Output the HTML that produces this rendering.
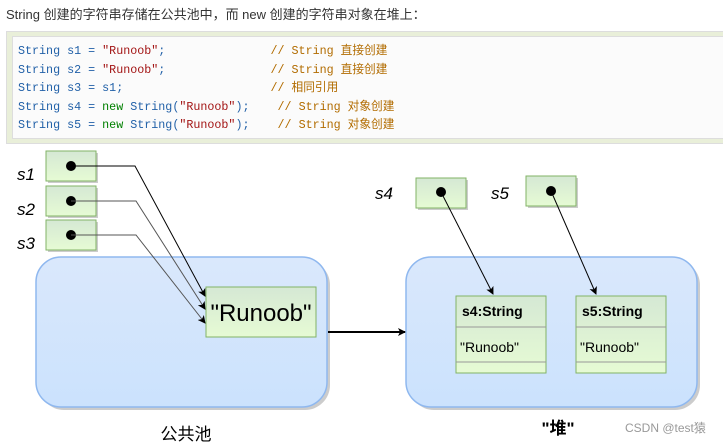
<!DOCTYPE html>
<html><head><meta charset="utf-8"><style>
body{margin:0;width:723px;height:443px;background:#fff;position:relative;overflow:hidden;font-family:"Liberation Sans","Noto Sans CJK SC",sans-serif}
.t{position:absolute;left:6px;top:4px;font-size:13px;color:#333}
.outer{position:absolute;left:6px;top:31px;width:720px;height:113px;border:1px solid #ddd;background:#e9efd9;box-sizing:border-box}
.inner{position:absolute;left:12px;top:36px;width:720px;height:103px;border:1px solid #ddd;background:#fbfbfb;box-sizing:border-box}
pre{position:absolute;left:18px;top:42px;margin:0;font-family:"Liberation Mono","Noto Sans CJK SC",monospace;font-size:11.7px;line-height:18.6px;color:#2261a8}
.s{color:#a31515}.k{color:#008000}.c{color:#b26c00}
</style></head><body>
<div class="t">String 创建的字符串存储在公共池中，而 new 创建的字符串对象在堆上：</div>
<div class="outer"></div><div class="inner"></div>
<pre>String s1 = <span class="s">"Runoob"</span>;               <span class="c">// String 直接创建</span>
String s2 = <span class="s">"Runoob"</span>;               <span class="c">// String 直接创建</span>
String s3 = s1;                     <span class="c">// 相同引用</span>
String s4 = <span class="k">new</span> String(<span class="s">"Runoob"</span>);    <span class="c">// String 对象创建</span>
String s5 = <span class="k">new</span> String(<span class="s">"Runoob"</span>);    <span class="c">// String 对象创建</span></pre>
<svg width="723" height="443" style="position:absolute;left:0;top:0" font-family="Liberation Sans, Noto Sans CJK SC, sans-serif">
<defs>
<linearGradient id="g" x1="0" y1="0" x2="0" y2="1"><stop offset="0" stop-color="#d5e8d4"/><stop offset="1" stop-color="#e6fbd4"/></linearGradient>
<linearGradient id="b" x1="0" y1="0" x2="0" y2="1"><stop offset="0" stop-color="#dae8fc"/><stop offset="1" stop-color="#cbe2fd"/></linearGradient>
<marker id="a" markerWidth="8" markerHeight="8" refX="7" refY="4" orient="auto" markerUnits="userSpaceOnUse"><path d="M0,0 L8,4 L0,8 L2,4z" fill="#000"/></marker>
</defs>
<g fill="#ccc">
<rect x="39" y="260" width="291" height="150" rx="25"/><rect x="409" y="260" width="291" height="150" rx="25"/>
<rect x="48" y="153" width="50" height="30"/><rect x="48" y="188" width="50" height="30"/><rect x="48" y="222" width="50" height="30"/>
<rect x="208" y="289" width="110" height="50"/><rect x="418" y="180" width="50" height="30"/><rect x="528" y="178" width="50" height="30"/>
<rect x="458" y="298" width="90" height="78"/><rect x="578" y="298" width="90" height="78"/>
</g>
<rect x="36" y="257" width="291" height="150" rx="25" fill="url(#b)" stroke="#8fb8ef" stroke-width="1.5"/>
<rect x="406" y="257" width="291" height="150" rx="25" fill="url(#b)" stroke="#8fb8ef" stroke-width="1.5"/>
<g fill="url(#g)" stroke="#82b366">
<rect x="46" y="151" width="50" height="30"/><rect x="46" y="186" width="50" height="30"/><rect x="46" y="220" width="50" height="30"/>
<rect x="206" y="287" width="110" height="50"/><rect x="416" y="178" width="50" height="30"/><rect x="526" y="176" width="50" height="30"/>
<rect x="456" y="296" width="90" height="77"/><rect x="576" y="296" width="90" height="77"/>
</g>
<g stroke="#999"><line x1="456" y1="327" x2="546" y2="327"/><line x1="456" y1="362" x2="546" y2="362"/><line x1="576" y1="327" x2="666" y2="327"/><line x1="576" y1="362" x2="666" y2="362"/></g>
<g fill="#000"><circle cx="71" cy="166" r="5"/><circle cx="71" cy="201" r="5"/><circle cx="71" cy="235" r="5"/><circle cx="441" cy="192" r="5"/><circle cx="551" cy="191" r="5"/></g>
<g fill="none" stroke="#000" stroke-width="1" marker-end="url(#a)">
<polyline points="71,166 135,166 205,296"/>
<polyline points="71,201 136,201 205,309" stroke="#555"/>
<polyline points="71,235 136,235 205,323" stroke="#555"/>
<line x1="441" y1="192" x2="493" y2="294"/>
<line x1="551" y1="191" x2="596" y2="294"/>
<line x1="328" y1="332" x2="405" y2="332" stroke-width="2"/>
</g>
<g font-size="17" fill="#000" font-style="italic">
<text x="17" y="180">s1</text><text x="17" y="215">s2</text><text x="17" y="249">s3</text>
<text x="375" y="199">s4</text><text x="491" y="199">s5</text></g>
<text x="261" y="321" font-size="24" text-anchor="middle">"Runoob"</text>
<g font-size="14" font-weight="bold"><text x="462" y="316">s4:String</text><text x="582" y="316">s5:String</text></g>
<g font-size="14"><text x="460" y="352">"Runoob"</text><text x="580" y="352">"Runoob"</text></g>
<text x="186" y="440" font-size="17" text-anchor="middle">公共池</text>
<text x="558" y="434" font-size="17" font-weight="bold" text-anchor="middle">"堆"</text>
<text x="625" y="432" font-size="12" fill="#999">CSDN @test猿</text>
</svg>
</body></html>
